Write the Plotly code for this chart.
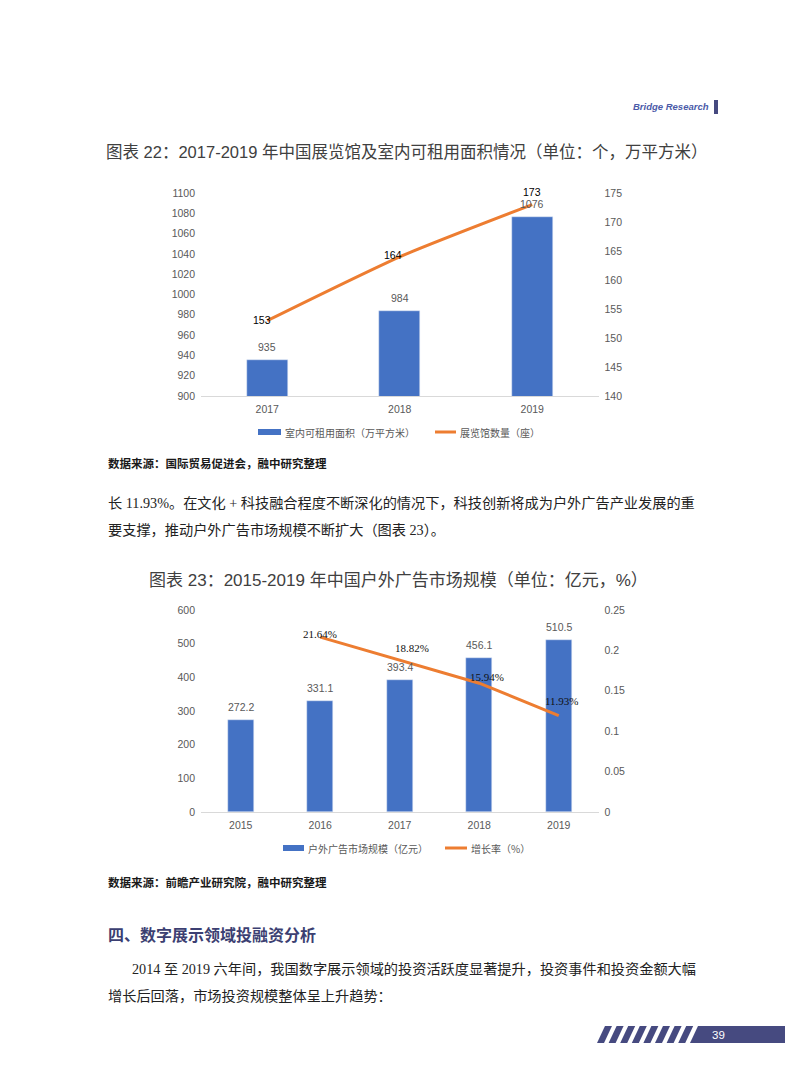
import plotly.graph_objects as go

PAGE_W, PAGE_H = 793, 1077
OFF = 8  # the page body places the figure 8px from the top-left corner
W, H = PAGE_W - OFF, 1045

# ---------------- data ----------------
years1 = ["2017", "2018", "2019"]
area1 = [935, 984, 1076]          # 室内可租用面积（万平方米）
halls1 = [153, 164, 173]          # 展览馆数量（座）

years2 = ["2015", "2016", "2017", "2018", "2019"]
market2 = [272.2, 331.1, 393.4, 456.1, 510.5]     # 户外广告市场规模（亿元）
growth2 = [None, 0.2164, 0.1882, 0.1594, 0.1193]  # 增长率
growth2_labels = ["", "21.64%", "18.82%", "15.94%", "11.93%"]

BLUE = "#4472C4"
ORANGE = "#ED7D31"
GRAY = "#595959"
NAVY = "#464A80"
CJK = "Noto Sans CJK SC"
SANS = "Liberation Sans, Noto Sans CJK SC"
SERIF = "Liberation Serif, Noto Sans CJK SC"


def fx(x):
    return (x - OFF) / W


def fy(y):
    return 1 - (y - OFF) / H


fig = go.Figure()

# ---------------- chart 1 ----------------
fig.add_trace(go.Bar(x=years1, y=area1, marker_color=BLUE, width=0.31,
                     xaxis="x", yaxis="y", showlegend=False, hoverinfo="skip"))
fig.add_trace(go.Scatter(x=years1, y=halls1, mode="lines",
                         line=dict(color=ORANGE, width=3, shape="spline", smoothing=0.6),
                         xaxis="x", yaxis="y2", showlegend=False, cliponaxis=False))

# ---------------- chart 2 ----------------
fig.add_trace(go.Bar(x=years2, y=market2, marker_color=BLUE, width=0.33,
                     xaxis="x2", yaxis="y3", showlegend=False, hoverinfo="skip"))
fig.add_trace(go.Scatter(x=years2, y=growth2, mode="lines",
                         line=dict(color=ORANGE, width=3),
                         xaxis="x2", yaxis="y4", showlegend=False, cliponaxis=False))

annotations = []

# bar value labels (category index positions on category axes)
for i, v in enumerate(area1):
    annotations.append(dict(x=i, y=v, xref="x", yref="y", text=str(v), showarrow=False,
                            yanchor="bottom", yshift=5,
                            font=dict(family=SANS, size=10.5, color=GRAY)))
for i, v in enumerate(market2):
    annotations.append(dict(x=i, y=v, xref="x2", yref="y3", text=f"{v:.1f}", showarrow=False,
                            yanchor="bottom", yshift=5,
                            font=dict(family=SANS, size=10.5, color=GRAY)))

# line value labels
label_shift1 = [(-5, 1), (-7, 2), (0, 13)]
for i, (v, (dx, dy)) in enumerate(zip(halls1, label_shift1)):
    annotations.append(dict(x=i, y=v, xref="x", yref="y2", text=str(v), showarrow=False,
                            xshift=dx, yshift=dy,
                            font=dict(family=SANS, size=10.5, color="#000000")))
label_shift2 = [(0, 0), (0, 3), (12, 12), (8, 6), (3, 15)]
for i, (v, t, (dx, dy)) in enumerate(zip(growth2, growth2_labels, label_shift2)):
    if v is None:
        continue
    annotations.append(dict(x=i, y=v, xref="x2", yref="y4", text=t, showarrow=False,
                            xshift=dx, yshift=dy,
                            font=dict(family="Liberation Serif", size=11, color="#111111")))


def txt(x, y, s, size, color="#333333", family=CJK, anchor="left"):
    annotations.append(dict(x=fx(x), y=fy(y), xref="paper", yref="paper", text=s,
                            showarrow=False, xanchor=anchor, yanchor="middle",
                            font=dict(family=family, size=size, color=color)))


# page texts
txt(711, 107, "<b><i>Bridge Research</i></b>", 9.5, "#4A5AA8", "Liberation Sans", "right")
txt(104, 152, "图表 22：2017-2019 年中国展览馆及室内可租用面积情况（单位：个，万平方米）", 16.5, "#404040", SANS)
txt(106, 463, "<b>数据来源：国际贸易促进会，融中研究整理</b>", 11.5, "#1a1a1a")
txt(106, 503, "长 11.93%。在文化 + 科技融合程度不断深化的情况下，科技创新将成为户外广告产业发展的重", 14.2, "#222222", SERIF)
txt(106, 530, "要支撑，推动户外广告市场规模不断扩大（图表 23）。", 14.2, "#222222", SERIF)
txt(398, 580, "图表 23：2015-2019 年中国户外广告市场规模（单位：亿元，%）", 17, "#404040", SANS, "center")
txt(106, 882, "<b>数据来源：前瞻产业研究院，融中研究整理</b>", 11.5, "#1a1a1a")
txt(106, 934, "<b>四、数字展示领域投融资分析</b>", 16, "#3C3F72")
txt(130, 969, "2014 至 2019 六年间，我国数字展示领域的投资活跃度显著提升，投资事件和投资金额大幅", 14.2, "#222222", SERIF)
txt(106, 996, "增长后回落，市场投资规模整体呈上升趋势：", 14.2, "#222222", SERIF)
txt(718, 1035, "39", 11.5, "#FFFFFF", "Liberation Sans", "center")

# legends
txt(283, 432, "室内可租用面积（万平方米）", 10, GRAY)
txt(458, 432, "展览馆数量（座）", 10, GRAY)
txt(306, 848, "户外广告市场规模（亿元）", 10, GRAY)
txt(469, 848, "增长率（%）", 10, GRAY)

shapes = []


def rect(x0, y0, x1, y1, color):
    shapes.append(dict(type="rect", xref="paper", yref="paper", x0=fx(x0), x1=fx(x1),
                       y0=fy(y1), y1=fy(y0), fillcolor=color, line=dict(width=0), layer="above"))


def line(x0, y0, x1, y1, color, w):
    shapes.append(dict(type="line", xref="paper", yref="paper", x0=fx(x0), x1=fx(x1),
                       y0=fy(y0), y1=fy(y1), line=dict(color=color, width=w)))


def poly(pts, color):
    path = "M " + " L ".join(f"{fx(x):.5f},{fy(y):.5f}" for x, y in pts) + " Z"
    shapes.append(dict(type="path", xref="paper", yref="paper", path=path,
                       fillcolor=color, line=dict(width=0)))


rect(258, 429, 281, 435, BLUE)
line(435, 432, 456, 432, ORANGE, 3)
rect(283, 845, 304, 851, BLUE)
line(445, 848, 467, 848, ORANGE, 3)

# header bar
rect(714, 100, 718, 114, NAVY)

# footer stripes and bar
for i in range(8):
    x0 = 597 + i * 11.6
    poly([(x0, 1043), (x0 + 7, 1043), (x0 + 15, 1026), (x0 + 8, 1026)], NAVY)
poly([(690, 1043), (793, 1043), (793, 1026), (698, 1026)], NAVY)

tickfont = dict(family=SANS, size=10.5, color=GRAY)
xd = [fx(201), fx(598.5)]
common = dict(automargin=False, showgrid=False, zeroline=False, ticks="", tickfont=tickfont)

fig.update_layout(
    width=W, height=H,
    margin=dict(l=0, r=0, t=0, b=0, autoexpand=False),
    paper_bgcolor="white", plot_bgcolor="white",
    bargap=0, showlegend=False,
    annotations=annotations, shapes=shapes,
    xaxis=dict(domain=xd, anchor="y", type="category", range=[-0.5, 2.5], showline=True,
               linecolor="#D9D9D9", linewidth=1, ticklabelstandoff=3, **common),
    yaxis=dict(domain=[fy(396), fy(193)], range=[900, 1100], dtick=20, anchor="x",
               ticklabelstandoff=5, **common),
    yaxis2=dict(overlaying="y", side="right", range=[140, 175], dtick=5, anchor="x",
                ticklabelstandoff=5, **common),
    xaxis2=dict(domain=xd, anchor="y3", type="category", range=[-0.5, 4.5], showline=True,
                linecolor="#D9D9D9", linewidth=1, ticklabelstandoff=3, **common),
    yaxis3=dict(domain=[fy(812), fy(610)], range=[0, 600], dtick=100, anchor="x2",
                ticklabelstandoff=5, **common),
    yaxis4=dict(overlaying="y3", side="right", range=[0, 0.25], dtick=0.05, anchor="x2",
                ticklabelstandoff=5, **common),
)

fig.write_html("out.html")
